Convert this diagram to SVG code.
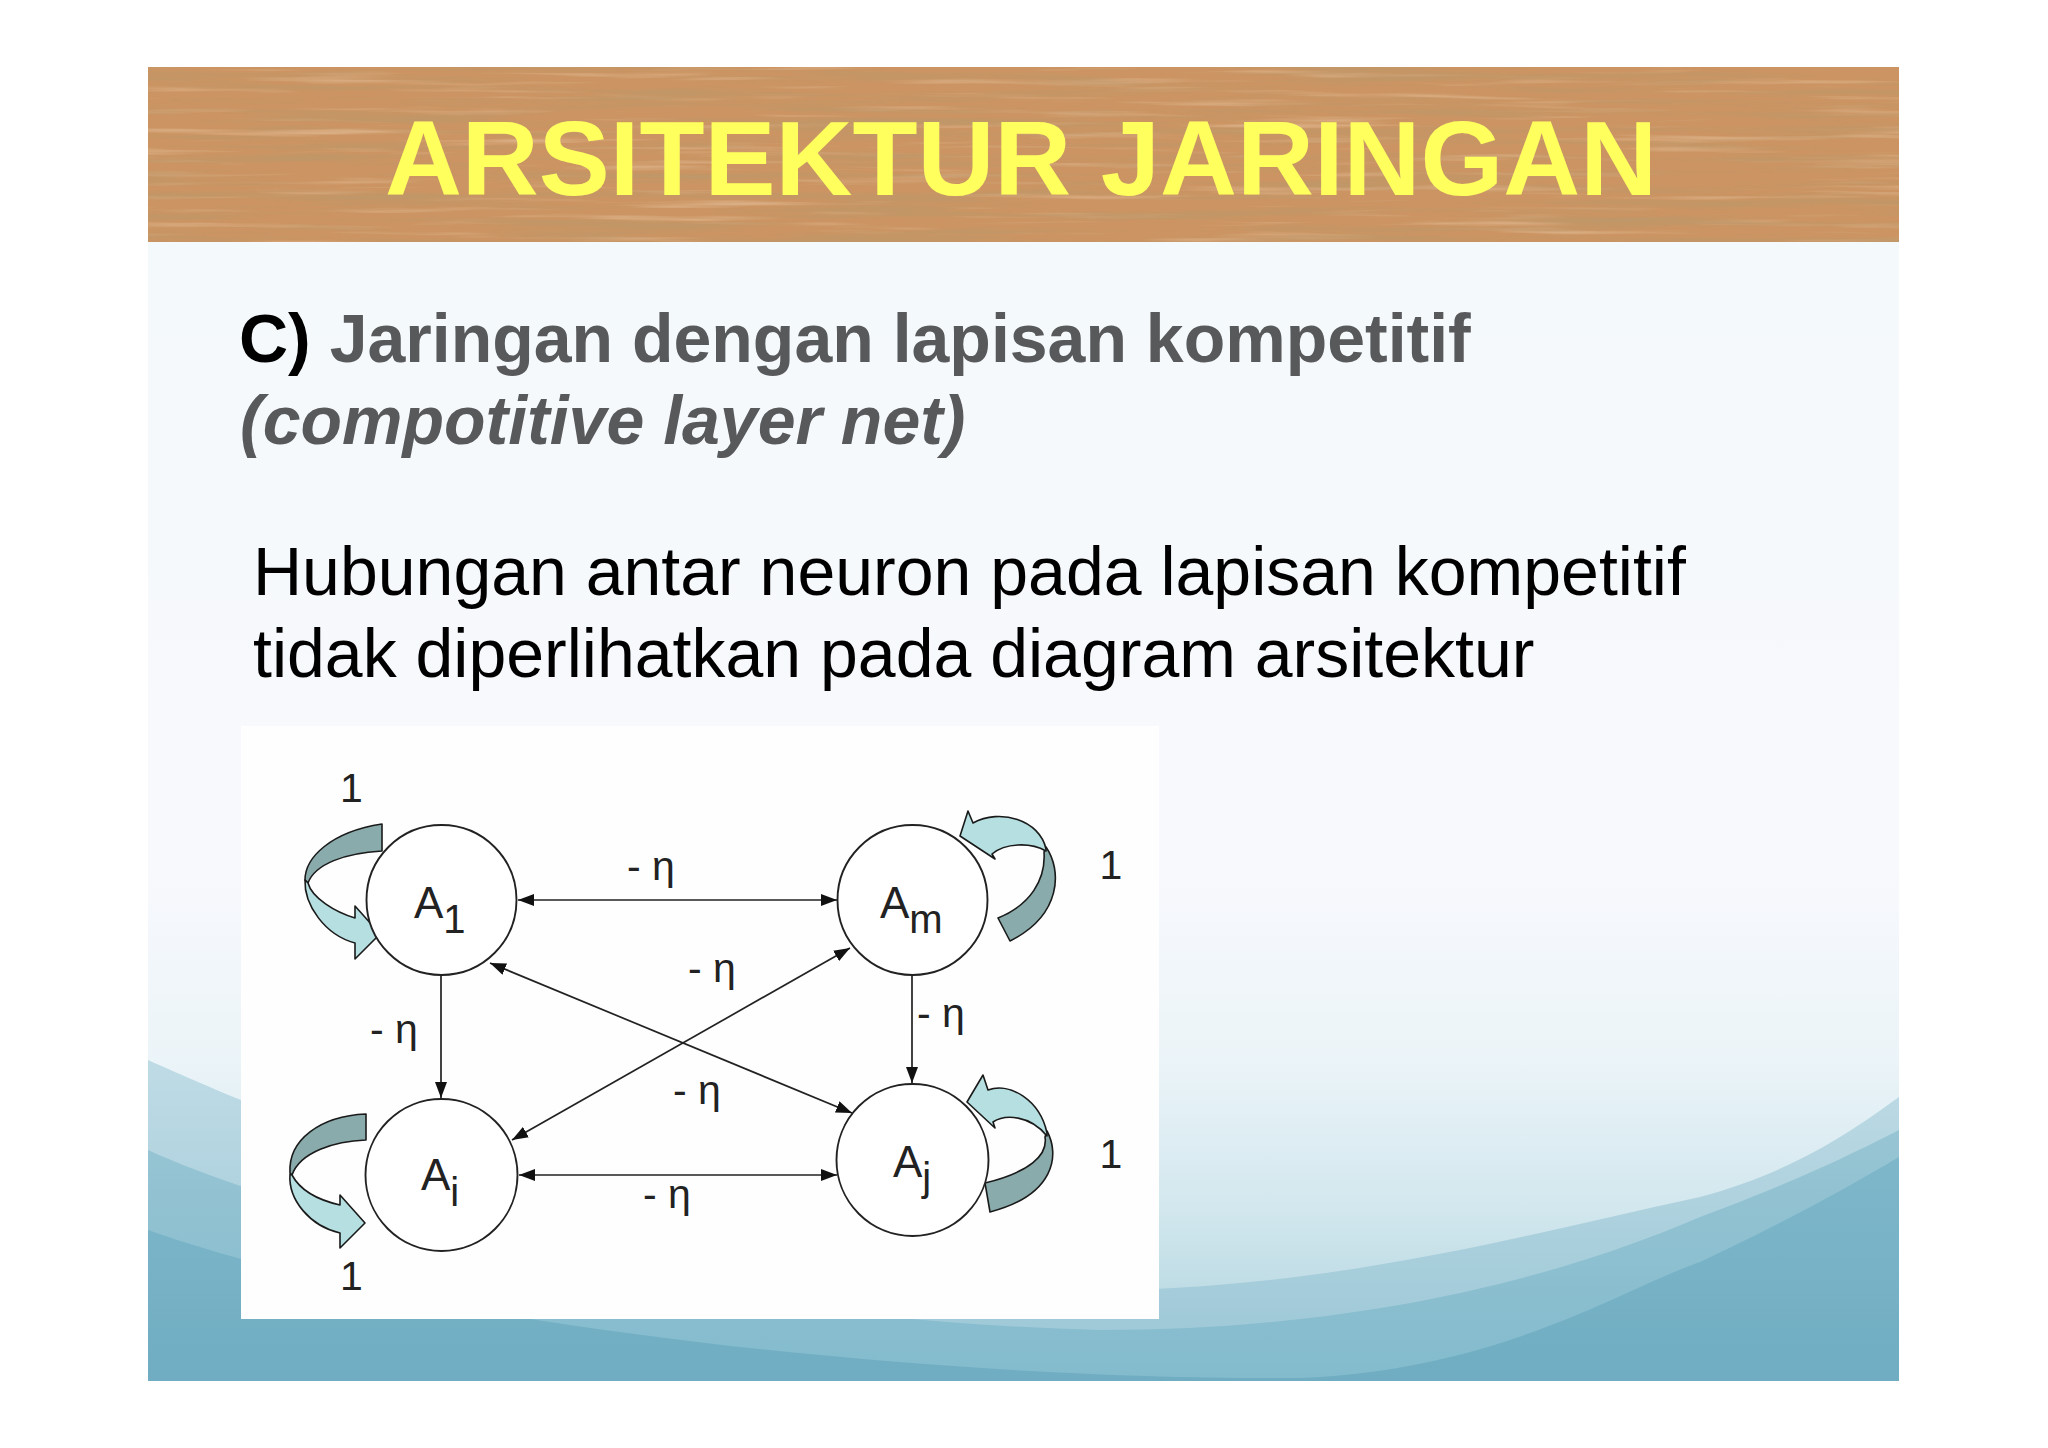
<svg xmlns="http://www.w3.org/2000/svg" width="2048" height="1448" viewBox="0 0 2048 1448">
<defs>
<style>
.title{font-family:"Liberation Sans",Arial,sans-serif;font-weight:bold;font-size:106.5px;fill:#ffff5e}
.sub{font-family:"Liberation Sans",Arial,sans-serif;font-weight:bold;font-size:68px;fill:#58595b}
.body{font-family:"Liberation Sans",Arial,sans-serif;font-size:68px;fill:#000}
.lbl{font-family:"Liberation Sans",Arial,sans-serif;font-size:41px;fill:#222}
.node circle{fill:#fff;stroke:#222;stroke-width:1.9}
.node text{font-family:"Liberation Sans",Arial,sans-serif;font-size:44px;fill:#222}
.conn line{stroke:#222;stroke-width:1.7}
.dark{fill:#8aabab;stroke:#1a1a1a;stroke-width:1.6;stroke-linejoin:round}
.light{fill:#b6dfe1;stroke:#1a1a1a;stroke-width:1.6;stroke-linejoin:round}
</style>
<marker id="ah" viewBox="0 0 16 12" refX="16" refY="6" markerWidth="16" markerHeight="12" markerUnits="userSpaceOnUse" orient="auto-start-reverse">
<path d="M0,0 L16,6 L0,12 Z" fill="#111"/>
</marker>
<linearGradient id="bodyg" x1="0" y1="242" x2="0" y2="1381" gradientUnits="userSpaceOnUse">
<stop offset="0" stop-color="#f4f9fb"/>
<stop offset="0.55" stop-color="#f8f9fd"/>
<stop offset="0.72" stop-color="#ebf4f8"/>
<stop offset="0.85" stop-color="#d2e7ee"/>
<stop offset="1" stop-color="#a9cfdb"/>
</linearGradient>
<linearGradient id="w1" x1="0" y1="1050" x2="0" y2="1381" gradientUnits="userSpaceOnUse">
<stop offset="0" stop-color="#c0dce6"/>
<stop offset="1" stop-color="#9ac6d5"/>
</linearGradient>
<linearGradient id="w2" x1="0" y1="1120" x2="0" y2="1381" gradientUnits="userSpaceOnUse">
<stop offset="0" stop-color="#98c5d4"/>
<stop offset="1" stop-color="#83bbcd"/>
</linearGradient>
<linearGradient id="w3" x1="0" y1="1150" x2="0" y2="1381" gradientUnits="userSpaceOnUse">
<stop offset="0" stop-color="#7fb7ca"/>
<stop offset="1" stop-color="#70adc2"/>
</linearGradient>
<filter id="grainD" x="0" y="0" width="100%" height="100%">
<feTurbulence type="fractalNoise" baseFrequency="0.004 0.11" numOctaves="4" seed="7"/>
<feColorMatrix type="matrix" values="0 0 0 0 0.52  0 0 0 0 0.31  0 0 0 0 0.14  2.4 0 0 0 -1.1"/>
</filter>
<filter id="grainL" x="0" y="0" width="100%" height="100%">
<feTurbulence type="fractalNoise" baseFrequency="0.005 0.14" numOctaves="3" seed="21"/>
<feColorMatrix type="matrix" values="0 0 0 0 0.88  0 0 0 0 0.68  0 0 0 0 0.48  1.3 0 0 0 -0.72"/>
</filter>
</defs>
<rect x="0" y="0" width="2048" height="1448" fill="#ffffff"/>
<g id="slide">
<rect x="148" y="242" width="1751" height="1139" fill="url(#bodyg)"/>
<path d="M148,1060 C260,1110 600,1260 1000,1290 C1300,1300 1500,1240 1700,1197 C1800,1170 1860,1125 1899,1097 L1899,1381 L148,1381 Z" fill="url(#w1)"/>
<path d="M148,1150 C300,1220 700,1320 1100,1330 C1400,1330 1600,1260 1700,1217 C1800,1180 1860,1150 1899,1130 L1899,1381 L148,1381 Z" fill="url(#w2)"/>
<path d="M148,1230 C400,1320 900,1380 1300,1378 C1500,1370 1620,1290 1700,1262 C1800,1215 1860,1180 1899,1157 L1899,1381 L148,1381 Z" fill="url(#w3)"/>
</g>
<g id="header">
<rect x="148" y="67" width="1751" height="175" fill="#cb9462"/>
<rect x="148" y="67" width="1751" height="175" filter="url(#grainL)"/>
<rect x="148" y="67" width="1751" height="175" filter="url(#grainD)"/>
<text class="title" x="1021" y="195" text-anchor="middle">ARSITEKTUR JARINGAN</text>
</g>
<g id="subtitle">
<text class="sub" x="239" y="362"><tspan fill="#000">C)</tspan> Jaringan dengan lapisan kompetitif</text>
<text class="sub" x="240" y="444" font-style="italic">(compotitive layer net)</text>
</g>
<g id="description">
<text class="body" x="253" y="595">Hubungan antar neuron pada lapisan kompetitif</text>
<text class="body" x="253" y="677">tidak diperlihatkan pada diagram arsitektur</text>
</g>
<g id="figure">
<rect x="241" y="726" width="918" height="593" fill="#fefefe"/>
</g>
<g id="loops">
<path class="dark" d="M382,824 L382,851 C345,853 315,864 308,883 L305,880 C305,858 330,832 382,824 Z"/>
<path class="light" d="M305,880 C304,905 325,935 355,943 L355,959 L380,934 L355,906 L355,918 C335,912 312,898 308,883 Z"/>
<path class="dark" d="M366,1114 L366,1140 C335,1141 300,1152 292,1175 L290,1173 C288,1140 320,1116 366,1114 Z"/>
<path class="light" d="M290,1174 C288,1200 310,1226 340,1233 L340,1248 L365,1223 L340,1195 L340,1205 C318,1200 300,1190 292,1175 Z"/>
<path class="dark" d="M1046,847 C1062,870 1062,915 1010,941 L998,918 C1030,905 1046,880 1044,852 Z"/>
<path class="light" d="M1046,849 C1040,820 1000,808 973,823 L968,811 L960,836 L995,859 L992,854 C1005,843 1030,842 1046,851 Z"/>
<path class="dark" d="M1047,1131 C1060,1155 1055,1195 990,1212 L985,1183 C1030,1172 1048,1155 1045,1137 Z"/>
<path class="light" d="M1047,1133 C1040,1100 1010,1082 988,1090 L983,1075 L967,1102 L995,1128 L993,1122 C1005,1114 1030,1115 1047,1136 Z"/>
</g>
<g id="connectors" class="conn">
<line x1="518" y1="900" x2="837" y2="900" marker-start="url(#ah)" marker-end="url(#ah)"/>
<line x1="519" y1="1175" x2="837" y2="1175" marker-start="url(#ah)" marker-end="url(#ah)"/>
<line x1="441" y1="976" x2="441" y2="1098" marker-end="url(#ah)"/>
<line x1="912" y1="976" x2="912" y2="1083" marker-end="url(#ah)"/>
<line x1="490" y1="963" x2="852" y2="1113" marker-start="url(#ah)" marker-end="url(#ah)"/>
<line x1="512" y1="1140" x2="850" y2="948" marker-start="url(#ah)" marker-end="url(#ah)"/>
</g>
<g id="node-A1" class="node">
<circle cx="441.5" cy="900" r="75"/>
<text x="414" y="918">A<tspan font-size="40" dy="15">1</tspan></text>
</g>
<g id="node-Am" class="node">
<circle cx="912.5" cy="900" r="75"/>
<text x="880" y="918">A<tspan font-size="40" dy="15">m</tspan></text>
</g>
<g id="node-Ai" class="node">
<circle cx="441.5" cy="1175" r="76"/>
<text x="421" y="1190">A<tspan font-size="40" dy="16">i</tspan></text>
</g>
<g id="node-Aj" class="node">
<circle cx="912.5" cy="1160" r="76"/>
<text x="893" y="1177">A<tspan font-size="40" dy="14">j</tspan></text>
</g>
<g id="labels">
<text class="lbl" x="627" y="880">- η</text>
<text class="lbl" x="688" y="982">- η</text>
<text class="lbl" x="370" y="1043">- η</text>
<text class="lbl" x="917" y="1027">- η</text>
<text class="lbl" x="673" y="1104">- η</text>
<text class="lbl" x="643" y="1208">- η</text>
<text class="lbl" x="351.5" y="802" text-anchor="middle">1</text>
<text class="lbl" x="1111" y="879" text-anchor="middle">1</text>
<text class="lbl" x="1111" y="1168" text-anchor="middle">1</text>
<text class="lbl" x="351.5" y="1290" text-anchor="middle">1</text>
</g>
</svg>
